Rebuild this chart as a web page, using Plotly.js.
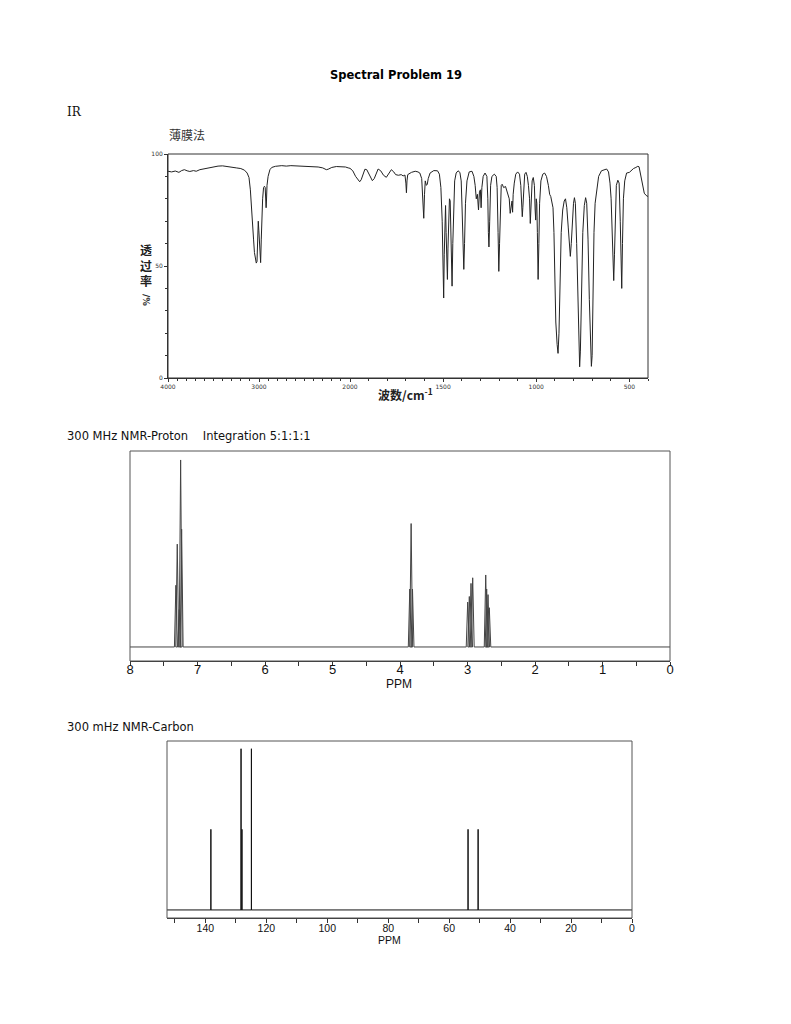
<!DOCTYPE html>
<html>
<head>
<meta charset="utf-8">
<script src="https://cdn.plot.ly/plotly-3.0.1.min.js"></script>
<style>html,body{margin:0;padding:0;background:#fff;}#chart{width:791px;height:1024px;}</style>
</head>
<body>
<div id="chart"></div>
<script>
// ---------- IR spectrum (wavenumber cm-1, transmittance %) ----------
const irWn = [4000,3960,3920,3880,3850,3820,3790,3760,3720,3690,3650,3600,3550,3500,3450,3400,3350,3300,3250,3200,3160,3130,3110,3095,3085,3078,3070,3060,3050,3040,3030,3022,3015,3008,3002,2995,2988,2982,2975,2968,2960,2950,2940,2932,2926,2922,2918,2912,2900,2880,2860,2820,2750,2700,2650,2600,2550,2500,2450,2400,2350,2300,2260,2240,2200,2150,2100,2050,2020,2000,
1985,1970,1955,1948,1940,1930,1920,1910,1900,1890,1880,1870,1860,1849,1835,1820,1805,1792,1778,1765,1755,1740,1725,1715,1705,1700,1697,1694,1690,1670,1650,1635,1625,1615,1608,1604,1600,1596,1590,1585,1580,1570,1550,1530,1520,1512,1505,1500,1497,1494,1490,1487,1484,1480,1477,1474,1470,1466,1462,1458,1455,1452,1448,1443,1438,1430,1420,1410,1403,1398,1393,1389,1385,1380,1372,1360,1345,1335,1328,1322,1316,1310,1305,1300,1296,1292,1285,1275,1265,1260,1257,1254,1250,1245,1238,1225,1215,1210,1205,1201,1197,1192,1188,1183,1175,1165,1160,1150,1145,1140,1135,1130,1127,1124,1118,1110,1100,1090,1083,1078,1075,1072,1068,1062,1055,1048,1042,1036,1032,1028,1022,1016,1010,1006,1003,1000,997,994,990,986,982,975,965,955,945,935,928,922,915,910,905,900,895,888,883,878,872,866,858,850,843,836,828,822,817,812,806,800,795,790,783,777,771,767,763,757,750,742,735,729,722,715,709,704,700,695,690,684,675,665,650,635,622,612,604,598,592,587,584,580,575,570,562,555,549,545,541,537,532,525,515,500,490,478,465,455,448,440,430,420,410,400];
const irT = [92.3,92.0,92.4,91.8,92.6,93.0,92.5,92.2,92.6,92.3,93.0,93.4,94.0,94.3,94.6,94.7,94.5,94.0,93.8,93.5,92.8,91.5,89.5,84,76,75,70,62,56,52,51.3,52,60,70,66,58,52,51.5,62,72,80,85,85.6,85,82,76,79,86,90,93,94,94.5,94.8,94.6,94.8,94.7,94.8,94.6,94.7,94.5,94.2,93.8,93.0,93.2,94.0,94.4,94.4,94.2,93.8,93.6,
92.5,90,88,87.6,88.5,91,93.2,93,91.5,89.5,88.1,89,91.5,93.3,92.5,90.5,89.6,91.5,93,92,90.8,90.5,90.8,90.2,90.6,87,82.7,88,90.8,91.8,92.3,92.0,91.5,89,80,71.3,82,88,86,86.5,89,91.5,92.6,92.5,91,85,70,50,35.7,55,74,77,65,50,44,58,74,80,79,65,50,41,60,80,88,91.5,92.5,91.8,88,75,60,48.5,60,78,88,92,92.3,90,86,80,82,75,83,84,76,85,90,91.5,90,80,65,58.5,70,86,90,91,90,85,65,47.6,60,82,86,86.5,85,85.5,84,82,80,73.5,78,79,74,82,87,91,92,91,86,75,72,76,86,91,91.8,90,86,80,69,78,88,89.5,86,75,70.5,80,78,65,44,60,78,88,91,91.5,90,86,82,81,77,76,65,45,25,15,11,20,45,65,75,79,80,76,67,57,54.3,60,72,78,80.5,78,60,35,15,5,12,40,65,77,80.5,78,62,35,15,5.2,10,40,65,78,85,90,92.5,92.8,93.3,92,87,80,62,48,43.5,55,76,86,88.3,87,70,42,40,60,80,88,91.5,91.8,92.8,93.5,94,94.5,94.3,91,86,82.5,81.5,81];
const irTicksHigh = [4000,3000];
const irTicksLow = [2000,1500,1000,500];
const irTicksY = [0,50,100];

// ---------- 1H NMR (ppm, relative intensity) ----------
const hPpm = [7.32,7.30,7.27,7.25,7.235,3.855,3.835,3.815,2.997,2.973,2.948,2.923,2.73,2.716,2.696,2.677];
const hInt = [33,55,20,100,63,31,66,31,24,27,34,37,38.5,31,28,21];
const hTicks = [8,7,6,5,4,3,2,1,0];

// ---------- 13C NMR (ppm, relative intensity) ----------
const cPpm = [138.2,128.3,128.0,124.9,53.8,50.5];
const cInt = [50,100,50,100,50,50];
const cTicks = [140,120,100,80,60,40,20,0];

// ---------- page geometry helpers ----------
const W = 791, H = 1024;
const px = v => v / W;
const py = v => 1 - v / H;

// IR traces split at 2000 cm-1 (scale change)
const hiX = [], hiY = [], loX = [], loY = [];
irWn.forEach((w, i) => {
  if (w >= 2000) { hiX.push(w); hiY.push(irT[i]); }
  if (w <= 2000) { loX.push(w); loY.push(irT[i]); }
});

// 1H line spectrum
const hRange = [8, 0];
const hw = 0.022;
const hx = [hRange[0]], hy = [0];
hPpm.forEach((p, i) => { hx.push(p + hw, p, p - hw); hy.push(0, hInt[i], 0); });
hx.push(hRange[1]); hy.push(0);

// 13C stick spectrum
const cRange = [152.6, 0];
const cx = [cRange[0]], cy = [0];
cPpm.forEach((p, i) => { cx.push(p, p, p); cy.push(0, cInt[i], 0); });
cx.push(cRange[1]); cy.push(0);

const traces = [
  {x: hiX, y: hiY, xaxis: 'x', yaxis: 'y', mode: 'lines', line: {color: '#222', width: 1}},
  {x: loX, y: loY, xaxis: 'x2', yaxis: 'y', mode: 'lines', line: {color: '#222', width: 1}},
  {x: hx, y: hy, xaxis: 'x3', yaxis: 'y2', mode: 'lines', line: {color: '#444', width: 1}},
  {x: cx, y: cy, xaxis: 'x4', yaxis: 'y3', mode: 'lines', line: {color: '#111', width: 1}}
];

const irTickFont = {family: 'DejaVu Sans', size: 6, color: '#333'};
const labelFont = {family: 'DejaVu Sans', size: 11.5, color: '#111'};

const layout = {
  width: W, height: H,
  margin: {l: 0, r: 0, t: 0, b: 0},
  paper_bgcolor: '#fff', plot_bgcolor: '#fff',
  showlegend: false,
  xaxis: {domain: [px(168), px(350)], range: [4000, 2000], anchor: 'y',
    tickvals: irTicksHigh, ticks: 'outside', ticklen: 3, tickcolor: '#333',
    minor: {dtick: 100, ticks: 'outside', ticklen: 2, tickcolor: '#333'},
    showgrid: false, zeroline: false, showline: true, linecolor: '#333', linewidth: 1,
    tickfont: irTickFont, fixedrange: true},
  xaxis2: {domain: [px(350), px(648)], range: [2000, 400], anchor: 'y',
    tickvals: irTicksLow, ticks: 'outside', ticklen: 3, tickcolor: '#333',
    minor: {dtick: 100, ticks: 'outside', ticklen: 2, tickcolor: '#333'},
    showgrid: false, zeroline: false, showline: true, linecolor: '#333', linewidth: 1,
    tickfont: irTickFont, fixedrange: true},
  yaxis: {domain: [py(378), py(154)], range: [0, 100], anchor: 'x',
    tickvals: irTicksY, ticks: 'outside', ticklen: 3, tickcolor: '#333',
    minor: {dtick: 10, ticks: 'outside', ticklen: 2, tickcolor: '#333'},
    showgrid: false, zeroline: false, showline: true, linecolor: '#333',
    tickfont: irTickFont, fixedrange: true},

  xaxis3: {domain: [px(130), px(670)], range: hRange, anchor: 'y2',
    tickvals: hTicks, ticks: 'outside', ticklen: 4, tickcolor: '#333',
    minor: {dtick: 0.5, ticks: 'outside', ticklen: 4, tickcolor: '#333'},
    showgrid: false, zeroline: false, showline: true, linecolor: '#333',
    ticklabelstandoff: -8,
    tickfont: {family: 'Liberation Sans, Arial', size: 13, color: '#111'}, fixedrange: true},
  yaxis2: {domain: [py(661), py(451)], range: [-7.5, 104.8], anchor: 'x3',
    showticklabels: false, ticks: '', showgrid: false, zeroline: false, showline: false, fixedrange: true},

  xaxis4: {domain: [px(167), px(632)], range: cRange, anchor: 'y3',
    tickvals: cTicks, ticks: 'outside', ticklen: 4, tickcolor: '#333',
    minor: {dtick: 10, ticks: 'outside', ticklen: 4, tickcolor: '#333'},
    showgrid: false, zeroline: false, showline: true, linecolor: '#333',
    ticklabelstandoff: -4,
    tickfont: {family: 'Liberation Sans, Arial', size: 10.5, color: '#111'}, fixedrange: true},
  yaxis3: {domain: [py(918), py(741)], range: [-5, 104.8], anchor: 'x4',
    showticklabels: false, ticks: '', showgrid: false, zeroline: false, showline: false, fixedrange: true},

  shapes: [
    {type: 'rect', xref: 'paper', yref: 'paper', x0: px(168), x1: px(648), y0: py(378), y1: py(154),
     line: {color: '#333', width: 1}},
    {type: 'rect', xref: 'x3 domain', yref: 'y2 domain', x0: 0, x1: 1, y0: 0, y1: 1,
     line: {color: '#555', width: 1}},
    {type: 'rect', xref: 'x4 domain', yref: 'y3 domain', x0: 0, x1: 1, y0: 0, y1: 1,
     line: {color: '#555', width: 1}}
  ],

  annotations: [
    {text: '<b>Spectral Problem 19</b>', x: px(396), y: py(75), xref: 'paper', yref: 'paper',
     xanchor: 'center', yanchor: 'middle', showarrow: false,
     font: {family: 'DejaVu Sans', size: 11.5, color: '#000'}},
    {text: 'IR', x: px(65), y: py(112), xref: 'paper', yref: 'paper', xanchor: 'left', yanchor: 'middle',
     showarrow: false, font: {family: 'DejaVu Serif', size: 12, color: '#111'}},
    {text: '薄膜法', x: px(167), y: py(134), xref: 'paper', yref: 'paper', xanchor: 'left', yanchor: 'middle',
     showarrow: false, font: {family: 'Noto Sans CJK SC', size: 12, color: '#333'}},
    {text: '<b>透<br>过<br>率</b>', x: px(146), y: py(265), xref: 'paper', yref: 'paper', xanchor: 'center', yanchor: 'middle',
     showarrow: false, font: {family: 'Noto Sans CJK SC', size: 12, color: '#222'}},
    {text: '<b>/%</b>', x: px(146), y: py(300), xref: 'paper', yref: 'paper', xanchor: 'center', yanchor: 'middle',
     textangle: 90, showarrow: false, font: {family: 'DejaVu Serif', size: 9, color: '#222'}},
    {text: '<b>波数/cm<sup>-1</sup></b>', x: px(405), y: py(394), xref: 'paper', yref: 'paper', xanchor: 'center', yanchor: 'middle',
     showarrow: false, font: {family: 'Noto Sans CJK SC', size: 12, color: '#222'}},
    {text: 'PPM', x: px(399), y: py(684), xref: 'paper', yref: 'paper', xanchor: 'center', yanchor: 'middle',
     showarrow: false, font: {family: 'Liberation Sans, Arial', size: 12, color: '#111'}},
    {text: 'PPM', x: px(389), y: py(940), xref: 'paper', yref: 'paper', xanchor: 'center', yanchor: 'middle',
     showarrow: false, font: {family: 'Liberation Sans, Arial', size: 10.5, color: '#111'}},
    {text: '300 MHz NMR-Proton\u00a0\u00a0\u00a0\u00a0Integration 5:1:1:1', x: px(65), y: py(436), xref: 'paper', yref: 'paper',
     xanchor: 'left', yanchor: 'middle', showarrow: false, font: labelFont},
    {text: '300 mHz NMR-Carbon', x: px(65), y: py(727), xref: 'paper', yref: 'paper',
     xanchor: 'left', yanchor: 'middle', showarrow: false, font: labelFont}
  ]
};

Plotly.newPlot('chart', traces, layout, {displayModeBar: false, staticPlot: true});
</script>
</body>
</html>
